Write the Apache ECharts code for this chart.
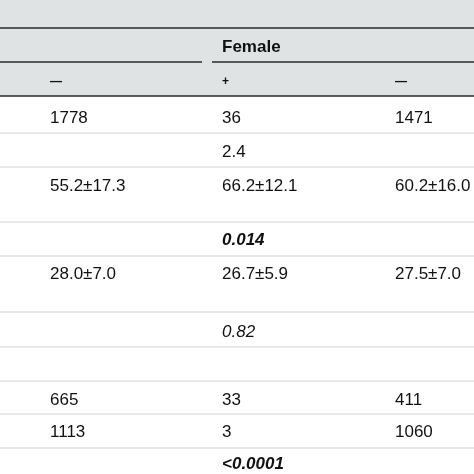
<!DOCTYPE html>
<html>
<head>
<meta charset="utf-8">
<script src="https://cdn.jsdelivr.net/npm/echarts@6/dist/echarts.min.js"></script>
<style>html,body{margin:0;padding:0;background:#fff}#main{width:474px;height:474px}</style>
</head>
<body>
<div id="main"></div>
<script>
// table contents
const colX = [50, 222, 395];
const headerSigns = ['—', '+', '—'];
const col1 = ['1778', '', '55.2±17.3', '', '28.0±7.0', '', '', '665', '1113', ''];
const col2 = ['36', '2.4', '66.2±12.1', '0.014', '26.7±5.9', '0.82', '', '33', '3', '<0.0001'];
const col3 = ['1471', '', '60.2±16.0', '', '27.5±7.0', '', '', '411', '1060', ''];
const italicRows = [3, 5, 9];
const boldRows = [3, 9];
const textY = [118, 152, 186, 240, 274, 332, 364, 400, 432, 464];
const rowLines = [133, 167, 222, 256, 312, 347, 381, 414, 448];

const chart = echarts.init(document.getElementById('main'));
const font = '"Liberation Sans", Arial, sans-serif';
const g = [];

g.push({ type: 'rect', shape: { x: 0, y: 0, width: 474, height: 96 }, style: { fill: '#dfe3e3' } });
[[0, 28, 474], [0, 62, 202], [212, 62, 474], [0, 96, 474]].forEach(l => {
    g.push({ type: 'line', shape: { x1: l[0], y1: l[1], x2: l[2], y2: l[1] }, style: { stroke: '#2a2a2a', lineWidth: 1.5 } });
});
rowLines.forEach(y => {
    g.push({ type: 'line', shape: { x1: 0, y1: y, x2: 474, y2: y }, style: { stroke: '#d0d3d4', lineWidth: 1 } });
});

g.push({ type: 'text', x: 222, y: 47, style: { text: 'Female', font: 'bold 17px ' + font, fill: '#111', verticalAlign: 'middle' } });
headerSigns.forEach((s, i) => {
    g.push({ type: 'text', x: colX[i], y: 82, style: { text: s, font: 'bold 12px ' + font, fill: '#111', verticalAlign: 'middle' } });
});

[col1, col2, col3].forEach((col, c) => {
    col.forEach((t, r) => {
        if (!t) return;
        const st = (italicRows.includes(r) && c === 1 ? 'italic ' : '') + (boldRows.includes(r) && c === 1 ? 'bold ' : '');
        g.push({ type: 'text', x: colX[c], y: textY[r], style: { text: t, font: st + '17px ' + font, fill: '#111', verticalAlign: 'middle' } });
    });
});

chart.setOption({ animation: false, graphic: g });
</script>
</body>
</html>
